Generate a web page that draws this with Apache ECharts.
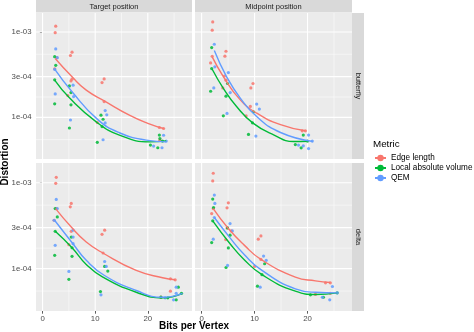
<!DOCTYPE html>
<html>
<head>
<meta charset="utf-8">
<script src="https://cdn.jsdelivr.net/npm/echarts@6/dist/echarts.min.js"></script>
<style>
  html, body { margin: 0; padding: 0; background: #ffffff; }
  #chart { width: 474px; height: 332px; }
</style>
</head>
<body>
<div id="chart"></div>
<script>
// Facet labels, metrics and axis breaks
const columnLabels = ['Target position', 'Midpoint position'];
const rowLabels = ['butterfly', 'delta'];
const metrics = ['Edge length', 'Local absolute volume', 'QEM'];
const xTicks = [0, 10, 20];
const xMinorTicks = [5, 15, 25];
const yTicks = [1e-4, 3e-4, 1e-3];
const yMinorTicks = [5.48e-5, 1.73e-4, 5.48e-4];

// Target position / butterfly: measurements [bits per vertex, distortion]
const tgtButterflyEdge = [[2.5,1.17e-3],[2.4,9.8e-4],[2.7,5.0e-4],[2.3,3.7e-4],[5.3,5.3e-4],[5.6,5.8e-4],[5.6,2.8e-4],[5.4,2.67e-4],[4.8,1.8e-4],[11.3,2.55e-4],[11.7,2.82e-4],[11.7,1.53e-4],[10.4,8.7e-5],[22.2,7.6e-5],[23.0,7.4e-5],[22.3,5.4e-5]];
const tgtButterflyVol = [[2.3,5.14e-4],[2.5,4.07e-4],[2.3,2.75e-4],[2.3,1.44e-4],[5.1,2.33e-4],[5.4,1.95e-4],[5.4,1.40e-4],[5.1,7.5e-5],[11.1,1.06e-4],[11.5,9.5e-5],[11.3,7.8e-5],[10.4,5.1e-5],[22.2,6.2e-5],[22.3,5.65e-5],[22.8,5.27e-5],[20.5,4.73e-5],[21.9,4.4e-5]];
const tgtButterflyQem = [[2.5,6.33e-4],[2.8,5.0e-4],[2.3,3.65e-4],[2.4,1.88e-4],[5.8,2.38e-4],[5.9,1.75e-4],[5.3,9.3e-5],[11.9,1.2e-4],[12.2,1.07e-4],[11.9,8.6e-5],[11.5,5.46e-5],[23.0,6.17e-5],[23.5,5.27e-5],[21.1,4.6e-5],[22.7,4.4e-5]];
// Target position / butterfly: smoothed trends
const tgtButterflyEdgeFit = [[2.4,4.88e-4],[5.6,2.98e-4],[8.3,2.08e-4],[11.8,1.55e-4],[16.5,1.06e-4],[20,8.5e-5],[23.0,7.4e-5]];
const tgtButterflyVolFit = [[2.3,2.72e-4],[5.1,1.69e-4],[10.2,8.85e-5],[14.6,6.2e-5],[20.3,5.16e-5],[23.5,5.3e-5]];
const tgtButterflyQemFit = [[2.3,3.66e-4],[5.6,1.99e-4],[10.5,9.4e-5],[14.6,6.6e-5],[19.7,5.41e-5],[23.5,5.16e-5]];

// Midpoint position / butterfly
const midButterflyEdge = [[2.1,1.31e-3],[2.0,1.05e-3],[2.0,5.19e-4],[1.7,4.34e-4],[4.6,5.94e-4],[4.4,5.2e-4],[4.3,3.05e-4],[4.6,2.72e-4],[4.0,2.21e-4],[9.7,2.49e-4],[9.3,2.21e-4],[9.2,1.34e-4],[8.4,1.04e-4],[19.0,6.95e-5],[19.6,6.95e-5]];
const midButterflyVol = [[1.9,6.56e-4],[1.9,3.72e-4],[1.7,2.02e-4],[4.9,2.49e-4],[4.6,1.77e-4],[4.1,1.04e-4],[9.8,1.16e-4],[9.6,8.63e-5],[8.85,6.3e-5],[19.2,6.19e-5],[20.0,5.27e-5],[17.7,4.8e-5],[18.8,4.39e-5]];
const midButterflyQem = [[2.4,7.18e-4],[2.5,3.9e-4],[2.3,2.21e-4],[5.05,3.34e-4],[5.4,1.95e-4],[4.8,1.11e-4],[10.4,1.43e-4],[10.9,1.25e-4],[10.25,6.03e-5],[20.2,6.19e-5],[20.9,5.27e-5],[18.3,4.73e-5],[19.2,4.64e-5],[20.2,4.3e-5]];
const midButterflyEdgeFit = [[2.0,5.1e-4],[4.1,3.0e-4],[7.3,1.6e-4],[10.4,1.12e-4],[14.9,8.2e-5],[19.6,6.95e-5]];
const midButterflyVolFit = [[2.0,3.66e-4],[4.1,2.19e-4],[6.6,1.34e-4],[9.7,8.55e-5],[13.6,6.24e-5],[17.4,5.21e-5],[20.1,5.25e-5]];
const midButterflyQemFit = [[2.4,6.05e-4],[4.7,3.0e-4],[7.3,1.68e-4],[10.4,1.02e-4],[14.9,6.64e-5],[21.0,5.21e-5]];

// Target position / delta
const tgtDeltaEdge = [[2.6,1.156e-3],[2.5,9.84e-4],[2.6,5.0e-4],[2.2,3.66e-4],[5.45,5.74e-4],[5.26,5.25e-4],[5.45,2.72e-4],[5.0,1.9e-4],[11.8,2.8e-4],[11.3,2.51e-4],[11.5,1.52e-4],[24.3,7.6e-5],[25.2,7.4e-5],[24.3,5.46e-5],[22.5,4.65e-5]];
const tgtDeltaVol = [[2.4,5.0e-4],[2.8,4.0e-4],[2.4,2.72e-4],[2.3,1.43e-4],[5.45,2.33e-4],[5.6,1.75e-4],[5.6,1.39e-4],[5.0,7.5e-5],[11.8,1.06e-4],[12.4,9.36e-5],[11.0,5.41e-5],[25.8,6.08e-5],[26.4,5.16e-5],[22.5,4.65e-5],[23.8,4.57e-5],[25.4,4.33e-5]];
const tgtDeltaQem = [[2.6,6.4e-4],[2.8,5.0e-4],[2.2,3.66e-4],[2.4,1.87e-4],[5.8,2.8e-4],[5.8,2.33e-4],[5.8,1.95e-4],[5.0,9.27e-5],[11.8,1.21e-4],[12.1,1.06e-4],[11.1,4.95e-5],[25.4,6.08e-5],[25.4,5.16e-5],[23.3,4.57e-5],[24.9,4.33e-5]];
const tgtDeltaEdgeFit = [[2.47,5.0e-4],[5.45,3.05e-4],[8.3,2.04e-4],[11.45,1.52e-4],[17.8,9.53e-5],[22.8,7.82e-5],[25.2,7.41e-5]];
const tgtDeltaVolFit = [[2.41,2.72e-4],[5.6,1.75e-4],[8.3,1.12e-4],[11.45,7.96e-5],[17.8,5.31e-5],[22.8,4.57e-5],[26.6,5.16e-5]];
const tgtDeltaQemFit = [[2.28,3.66e-4],[5.77,1.95e-4],[8.3,1.25e-4],[11.77,8.32e-5],[17.8,5.56e-5],[22.8,4.64e-5],[26.6,5.16e-5]];

// Midpoint position / delta
const midDeltaEdge = [[2.2,1.29e-3],[2.1,1.05e-3],[2.2,5.0e-4],[1.9,4.38e-4],[5.05,5.83e-4],[4.8,5.1e-4],[4.8,2.98e-4],[5.6,2.75e-4],[4.55,2.18e-4],[11.2,2.4e-4],[10.7,2.2e-4],[11.2,1.28e-4],[10.0,1.06e-4],[23.4,6.84e-5],[24.3,6.84e-5],[24.3,5.16e-5],[21.5,5.0e-5]];
const midDeltaVol = [[2.1,6.45e-4],[2.25,5.15e-4],[2.1,3.6e-4],[1.9,2.01e-4],[4.9,2.98e-4],[5.37,2.45e-4],[5.05,1.74e-4],[4.61,1.03e-4],[11.9,1.14e-4],[11.4,8.5e-5],[10.55,6.24e-5],[25.6,5.22e-5],[20.55,4.95e-5],[23.0,4.64e-5]];
const midDeltaQem = [[2.4,7.18e-4],[2.5,5.74e-4],[2.4,3.94e-4],[2.2,2.2e-4],[5.37,3.35e-4],[5.8,2.75e-4],[4.9,1.09e-4],[11.7,1.4e-4],[12.2,1.25e-4],[11.06,6.08e-5],[24.7,6.19e-5],[25.6,5.22e-5],[22.8,4.64e-5],[24.2,4.33e-5]];
const midDeltaEdgeFit = [[2.2,5.0e-4],[5.05,2.93e-4],[8.0,1.89e-4],[11.2,1.28e-4],[17.7,7.96e-5],[21.5,7.2e-5],[24.3,6.9e-5]];
const midDeltaVolFit = [[2.1,3.6e-4],[5.37,1.95e-4],[8.0,1.28e-4],[11.4,8.5e-5],[17.7,5.46e-5],[21.5,5.0e-5],[25.6,5.22e-5]];
const midDeltaQemFit = [[2.4,3.94e-4],[5.37,2.28e-4],[8.0,1.47e-4],[11.4,9.53e-5],[17.7,5.82e-5],[21.5,5.3e-5],[25.6,5.22e-5]];

// Panels in reading order: top-left, top-right, bottom-left, bottom-right
const panelPoints = [
  [tgtButterflyEdge, tgtButterflyVol, tgtButterflyQem],
  [midButterflyEdge, midButterflyVol, midButterflyQem],
  [tgtDeltaEdge, tgtDeltaVol, tgtDeltaQem],
  [midDeltaEdge, midDeltaVol, midDeltaQem]
];
const panelFits = [
  [tgtButterflyEdgeFit, tgtButterflyVolFit, tgtButterflyQemFit],
  [midButterflyEdgeFit, midButterflyVolFit, midButterflyQemFit],
  [tgtDeltaEdgeFit, tgtDeltaVolFit, tgtDeltaQemFit],
  [midDeltaEdgeFit, midDeltaVolFit, midDeltaQemFit]
];

const palette = ['#F8766D', '#00BA38', '#619CFF'];
const font = '"Liberation Sans", Arial, Helvetica, sans-serif';

// Panel rectangles (px) and axis ranges
const panelBoxes = [
  { left: 36,  top: 13,  width: 156, height: 146 },
  { left: 195, top: 13,  width: 157, height: 146 },
  { left: 36,  top: 163, width: 156, height: 148 },
  { left: 195, top: 163, width: 157, height: 148 }
];
const xRange = [-1.25, 28.4];
const yRanges = [[3.25e-5, 1.667e-3], [3.25e-5, 1.667e-3], [3.21e-5, 1.698e-3], [3.21e-5, 1.698e-3]];

function sciLabel(v) {
  const e = Math.floor(Math.log10(v) + 1e-9);
  const m = Math.round(v / Math.pow(10, e));
  const ee = Math.abs(e);
  return m + 'e' + (e < 0 ? '-' : '+') + (ee < 10 ? '0' + ee : ee);
}

const grids = panelBoxes.map(b => Object.assign({
  show: true, backgroundColor: '#EBEBEB', borderWidth: 0, containLabel: false
}, b));

const xAxes = panelBoxes.map((b, i) => ({
  gridIndex: i, type: 'value', min: xRange[0], max: xRange[1],
  axisLine: { show: false },
  splitLine: { show: false },
  axisTick: { show: i >= 2, customValues: xTicks, length: 2.7, lineStyle: { color: '#333333', width: 0.8 } },
  axisLabel: { show: i >= 2, customValues: xTicks, color: '#4D4D4D', fontSize: 7.8, fontFamily: font, margin: 4 }
}));

const yAxes = panelBoxes.map((b, i) => ({
  gridIndex: i, type: 'log', logBase: 10, min: yRanges[i][0], max: yRanges[i][1],
  axisLine: { show: false },
  splitLine: { show: false },
  minorSplitLine: { show: false },
  axisTick: { show: i % 2 === 0, customValues: yTicks, length: 2.7, lineStyle: { color: '#333333', width: 0.8 } },
  axisLabel: { show: i % 2 === 0, customValues: yTicks, formatter: v => sciLabel(v), color: '#4D4D4D', fontSize: 7.8, fontFamily: font, margin: 4.5 }
}));

// Gridline rows: [x, y, line width]; horizontal rows carry y, vertical rows carry x
const hLines = [].concat(
  yMinorTicks.map(v => [xTicks[1], v, 0.5]),
  yTicks.map(v => [xTicks[1], v, 1.1])
);
const vLines = [].concat(
  xMinorTicks.map(v => [v, yTicks[1], 0.5]),
  xTicks.map(v => [v, yTicks[1], 1.1])
);

function gridLineSeries(p, rows, horizontal) {
  return {
    type: 'custom', xAxisIndex: p, yAxisIndex: p, data: rows, silent: true, z: 1,
    clip: true,
    renderItem: (params, api) => {
      const cs = params.coordSys;
      const pt = api.coord([api.value(0), api.value(1)]);
      const w = api.value(2);
      const shape = horizontal
        ? { x1: cs.x, y1: pt[1], x2: cs.x + cs.width, y2: pt[1] }
        : { x1: pt[0], y1: cs.y, x2: pt[0], y2: cs.y + cs.height };
      return { type: 'line', shape: shape, style: { stroke: '#FFFFFF', lineWidth: w } };
    }
  };
}

const series = [];
// Trend lines first so the legend takes its keys from them
panelFits.forEach((fits, p) => {
  fits.forEach((fit, m) => {
    series.push({
      name: metrics[m], type: 'line', xAxisIndex: p, yAxisIndex: p,
      data: fit, smooth: 0.5,
      symbol: 'circle', symbolSize: 3.5, showSymbol: false,
      lineStyle: { color: palette[m], width: 1.4 },
      itemStyle: { color: palette[m] },
      z: 4, silent: true
    });
  });
});
panelPoints.forEach((groups, p) => {
  groups.forEach((pts, m) => {
    series.push({
      name: metrics[m], type: 'scatter', xAxisIndex: p, yAxisIndex: p,
      data: pts, symbol: 'circle', symbolSize: 3.2,
      itemStyle: { color: palette[m], opacity: 0.85 },
      z: 3, silent: true
    });
  });
});
panelBoxes.forEach((b, p) => {
  series.push(gridLineSeries(p, hLines, true));
  series.push(gridLineSeries(p, vLines, false));
});

// Facet strips, axis titles and legend title
const graphics = [];
columnLabels.forEach((lab, c) => {
  const b = panelBoxes[c];
  graphics.push({ type: 'rect', shape: { x: b.left, y: 0, width: b.width, height: 12.6 }, style: { fill: '#D9D9D9' }, silent: true });
  graphics.push({ type: 'text', x: b.left + b.width / 2, y: 6.5, style: { text: lab, fill: '#1A1A1A', font: '7.5px ' + font, textAlign: 'center', textVerticalAlign: 'middle' }, silent: true });
});
rowLabels.forEach((lab, r) => {
  const b = panelBoxes[r * 2 + 1];
  graphics.push({ type: 'rect', shape: { x: b.left + b.width, y: b.top, width: 12, height: b.height }, style: { fill: '#D9D9D9' }, silent: true });
  graphics.push({ type: 'text', x: b.left + b.width + 6, y: b.top + b.height / 2, rotation: -Math.PI / 2, style: { text: lab, fill: '#1A1A1A', font: '7.5px ' + font, textAlign: 'center', textVerticalAlign: 'middle' }, silent: true });
});
graphics.push({ type: 'text', x: 5.5, y: 162, rotation: Math.PI / 2, style: { text: 'Distortion', fill: '#000000', font: 'bold 10px ' + font, textAlign: 'center', textVerticalAlign: 'middle' }, silent: true });
graphics.push({ type: 'text', x: 194, y: 326.5, style: { text: 'Bits per Vertex', fill: '#000000', font: 'bold 10px ' + font, textAlign: 'center', textVerticalAlign: 'middle' }, silent: true });
graphics.push({ type: 'text', x: 373, y: 144, style: { text: 'Metric', fill: '#000000', font: '9.8px ' + font, textAlign: 'left', textVerticalAlign: 'middle' }, silent: true });

const chart = echarts.init(document.getElementById('chart'), null, { renderer: 'canvas' });
chart.setOption({
  animation: false,
  backgroundColor: '#FFFFFF',
  textStyle: { fontFamily: font },
  grid: grids,
  xAxis: xAxes,
  yAxis: yAxes,
  legend: {
    data: metrics, orient: 'vertical', left: 374, top: 154, padding: 0,
    itemWidth: 11, itemHeight: 8, itemGap: 2, selectedMode: false,
    textStyle: { fontSize: 8.2, color: '#000000', fontFamily: font }
  },
  graphic: graphics,
  series: series
});
</script>
</body>
</html>
